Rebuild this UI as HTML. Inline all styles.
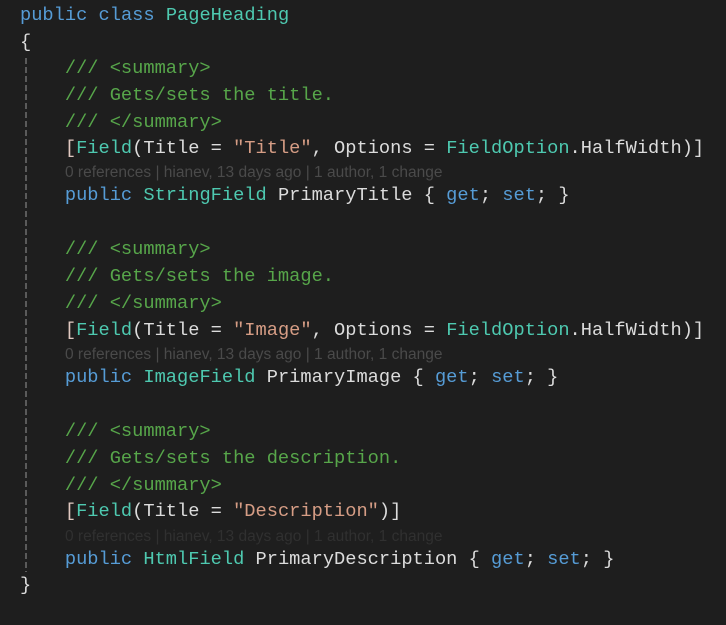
<!DOCTYPE html>
<html><head><meta charset="utf-8"><style>
html,body{margin:0;padding:0;background:#1e1e1e;width:726px;height:625px;overflow:hidden}
.l{position:absolute;left:20px;height:26px;line-height:26px;font-family:"Liberation Mono",monospace;font-size:18.7px;color:#dcdcdc;white-space:pre}
.cl{position:absolute;left:65px;height:20px;line-height:20px;font-family:"Liberation Sans",sans-serif;font-size:15.5px;color:#4a4a4a;white-space:pre}
.k{color:#569cd6}.t{color:#4ec9b0}.c{color:#57a64a}.s{color:#d69d85}.b{color:#e0c8c0}
.g{position:absolute;left:25px;top:58px;width:2px;height:514px;background:repeating-linear-gradient(to bottom,#5a5a5a 0 6px,transparent 6px 9px)}
</style></head><body>
<div class="g"></div>
<div class="l" style="top:2px"><span class="k">public</span> <span class="k">class</span> <span class="t">PageHeading</span></div>
<div class="l" style="top:29px">{</div>
<div class="l" style="top:55px">    <span class="c">/// &lt;summary&gt;</span></div>
<div class="l" style="top:82px">    <span class="c">/// Gets/sets the title.</span></div>
<div class="l" style="top:109px">    <span class="c">/// &lt;/summary&gt;</span></div>
<div class="l" style="top:135px">    <span class="b">[</span><span class="t">Field</span>(Title = <span class="s">"Title"</span>, Options = <span class="t">FieldOption</span>.HalfWidth)]</div>
<div class="cl" style="top:163px">0 references | hianev, 13 days ago | 1 author, 1 change</div>
<div class="l" style="top:182px">    <span class="k">public</span> <span class="t">StringField</span> PrimaryTitle { <span class="k">get</span>; <span class="k">set</span>; }</div>
<div class="l" style="top:236px">    <span class="c">/// &lt;summary&gt;</span></div>
<div class="l" style="top:263px">    <span class="c">/// Gets/sets the image.</span></div>
<div class="l" style="top:290px">    <span class="c">/// &lt;/summary&gt;</span></div>
<div class="l" style="top:317px">    <span class="b">[</span><span class="t">Field</span>(Title = <span class="s">"Image"</span>, Options = <span class="t">FieldOption</span>.HalfWidth)]</div>
<div class="cl" style="top:345px">0 references | hianev, 13 days ago | 1 author, 1 change</div>
<div class="l" style="top:364px">    <span class="k">public</span> <span class="t">ImageField</span> PrimaryImage { <span class="k">get</span>; <span class="k">set</span>; }</div>
<div class="l" style="top:418px">    <span class="c">/// &lt;summary&gt;</span></div>
<div class="l" style="top:445px">    <span class="c">/// Gets/sets the description.</span></div>
<div class="l" style="top:472px">    <span class="c">/// &lt;/summary&gt;</span></div>
<div class="l" style="top:498px">    <span class="b">[</span><span class="t">Field</span>(Title = <span class="s">"Description"</span>)]</div>
<div class="cl" style="top:527px;color:#303030">0 references | hianev, 13 days ago | 1 author, 1 change</div>
<div class="l" style="top:546px">    <span class="k">public</span> <span class="t">HtmlField</span> PrimaryDescription { <span class="k">get</span>; <span class="k">set</span>; }</div>
<div class="l" style="top:572px">}</div>
</body></html>
